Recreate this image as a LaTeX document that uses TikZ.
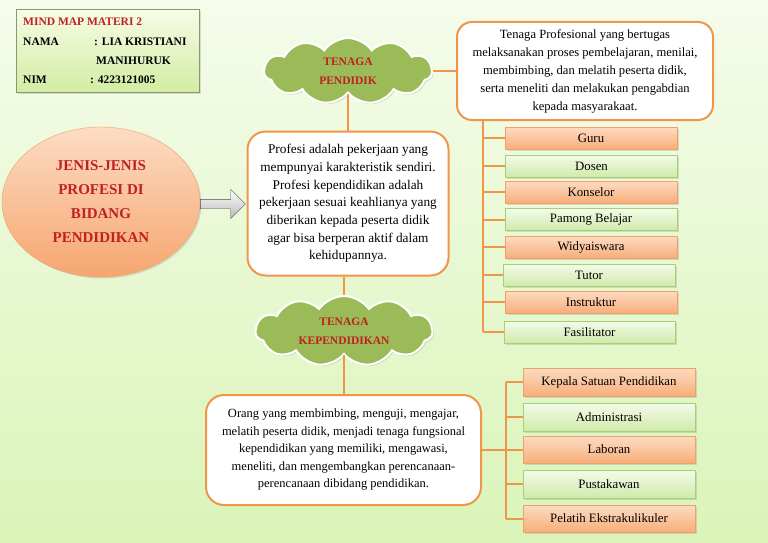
\documentclass[tikz,border=0pt]{standalone}
\usepackage{fontspec}
\setmainfont{Liberation Serif}
\usetikzlibrary{shapes.geometric,shapes.symbols,shapes.arrows,shadows}
\definecolor{bgtop}{HTML}{F5FCEB}
\definecolor{bgbot}{HTML}{DAF4B8}
\definecolor{orline}{HTML}{F0964A}
\definecolor{cloudfill}{HTML}{9BBB59}
\definecolor{redtxt}{HTML}{C0201E}
\definecolor{ortop}{HTML}{FDDCC2}
\definecolor{orbot}{HTML}{F7AE7A}
\definecolor{orbord}{HTML}{F1A068}
\definecolor{grtop}{HTML}{F4FBEA}
\definecolor{grbot}{HTML}{D0EAAA}
\definecolor{grbord}{HTML}{A6CF76}
\definecolor{elltop}{HTML}{FCDCC4}
\definecolor{ellbot}{HTML}{F6A66F}
\definecolor{infotop}{HTML}{F6FCE6}
\definecolor{infobot}{HTML}{D3ECA3}
\tikzset{
  conn/.style={draw=orline, line width=2pt},
  shad/.style={drop shadow={opacity=0.25, shadow xshift=1.5pt, shadow yshift=-1.5pt}},
  textbox/.style={draw=orline, line width=2pt, fill=white, rounded corners=18pt, align=center, inner sep=2pt, font=\fontsize{13.2}{17.7}\selectfont},
  itemO/.style={draw=orbord, top color=ortop, bottom color=orbot, shad, minimum width=172pt, minimum height=22pt, inner sep=0pt, font=\fontsize{12.8}{13}\selectfont},
  itemG/.style={draw=grbord, top color=grtop, bottom color=grbot, shad, minimum width=172pt, minimum height=22pt, inner sep=0pt, font=\fontsize{12.8}{13}\selectfont},
  cloudbox/.style={cloud, cloud puffs=11, cloud puff arc=110, cloud ignores aspect, fill=cloudfill, draw=white, line width=2pt, shad, align=center, text=redtxt, inner sep=0pt, font=\bfseries\fontsize{11.5}{18.5}\selectfont},
  infotxt/.style={anchor=base west, inner sep=0pt, font=\bfseries\fontsize{11.5}{12}\selectfont},
}
\begin{document}
\begin{tikzpicture}[x=1pt,y=-1pt]
\useasboundingbox (0,0) rectangle (768,543);
\shade[top color=bgtop,bottom color=bgbot] (0,0) rectangle (768,543);

% info box
\node[draw=gray!60!cloudfill, top color=infotop, bottom color=infobot, shad, minimum width=183pt, minimum height=83pt, anchor=north west] (info) at (16,9) {};
\node[infotxt, text=redtxt] (t0) at (23,26) {MIND MAP MATERI 2};
\node[infotxt] (t1) at (23,46) {NAMA};
\node[infotxt] (t2) at (94,46) {: LIA KRISTIANI};
\node[infotxt] (t3) at (96,65) {MANIHURUK};
\node[infotxt] (t4) at (23,84) {NIM};
\node[infotxt] (t5) at (90,84) {: 4223121005};

% root ellipse
\node[ellipse, draw=orbord, top color=elltop, bottom color=ellbot, shad, minimum width=198pt, minimum height=150pt, align=center, text=redtxt, font=\bfseries\fontsize{15}{24}\selectfont] (root) at (101,202) {JENIS-JENIS\\PROFESI DI\\BIDANG\\PENDIDIKAN};

% middle box
\node[textbox, minimum width=201pt, minimum height=144pt, font=\fontsize{13.3}{17.7}\selectfont] (mid) at (348,203.5) {Profesi adalah pekerjaan yang\\mempunyai karakteristik sendiri.\\Profesi kependidikan adalah\\pekerjaan sesuai keahlianya yang\\diberikan kepada peserta didik\\agar bisa berperan aktif dalam\\kehidupannya.};

% arrow
\node[single arrow, draw=gray!60!black, top color=white, bottom color=gray!55, inner sep=4.5pt, single arrow head extend=10pt, minimum height=45pt, anchor=tail] (arr) at (root.east |- 0,204) {};

% clouds
\node[cloudbox, minimum width=168pt, minimum height=66pt] (c1) at (348,71) {TENAGA\\PENDIDIK};
\node[cloudbox, minimum width=177pt, minimum height=70pt] (c2) at (344,331) {TENAGA\\KEPENDIDIKAN};

% top right box
\node[textbox, rounded corners=15pt, minimum width=256pt, minimum height=98pt, font=\fontsize{12.6}{18}\selectfont] (tr) at (585,71) {Tenaga Profesional yang bertugas\\melaksanakan proses pembelajaran, menilai,\\membimbing, dan melatih peserta didik,\\serta meneliti dan melakukan pengabdian\\kepada masyarakaat.};

% bottom box
\node[textbox, minimum width=275pt, minimum height=110pt, font=\fontsize{12.5}{17.5}\selectfont] (bot) at (343.5,450) {Orang yang membimbing, menguji, mengajar,\\melatih peserta didik, menjadi tenaga fungsional\\kependidikan yang memiliki, mengawasi,\\meneliti, dan mengembangkan perencanaan-\\perencanaan dibidang pendidikan.};

% top items
\node[itemO] (guru) at (591,138) {Guru};
\node[itemG] (dosen) at (591.5,166) {Dosen};
\node[itemO] (kons) at (591,192) {Konselor};
\node[itemG] (pam) at (591,219.5) {Pamong Belajar};
\node[itemO] (widya) at (591,247) {Widyaiswara};
\node[itemG] (tutor) at (589,275) {Tutor};
\node[itemO] (instr) at (591,302) {Instruktur};
\node[itemG, minimum width=171pt] (fasil) at (589.5,332) {Fasilitator};

% bottom items
\node[itemO, minimum height=28pt] (kepala) at (609,382) {Kepala Satuan Pendidikan};
\node[itemG, minimum height=28pt] (admin) at (609,417) {Administrasi};
\node[itemO, minimum height=27pt] (labo) at (609,449.5) {Laboran};
\node[itemG, minimum height=28pt] (pusta) at (609,484) {Pustakawan};
\node[itemO, minimum height=27pt] (pelatih) at (609,518.5) {Pelatih Ekstrakulikuler};

% connectors
\draw[conn] (c1.south) -- (c1.south |- mid.north);
\draw[conn] (mid.south -| c2.north) -- (c2.north);
\draw[conn] (c2.south) -- (c2.south |- bot.north);
\draw[conn] (c1.east) -- (tr.west |- c1.east);

\coordinate (ta) at (483,0);
\draw[conn] (tr.south -| ta) -- (ta |- fasil.west);
\foreach \n in {guru,dosen,kons,pam,widya,tutor,instr,fasil}
  \draw[conn] (ta |- \n.west) -- (\n.west);

\coordinate (tb) at (506,0);
\draw[conn] (bot.east) -- (bot.east -| tb);
\draw[conn] (tb |- kepala.west) -- (tb |- pelatih.west);
\foreach \n in {kepala,admin,labo,pusta,pelatih}
  \draw[conn] (tb |- \n.west) -- (\n.west);
\end{tikzpicture}
\end{document}
